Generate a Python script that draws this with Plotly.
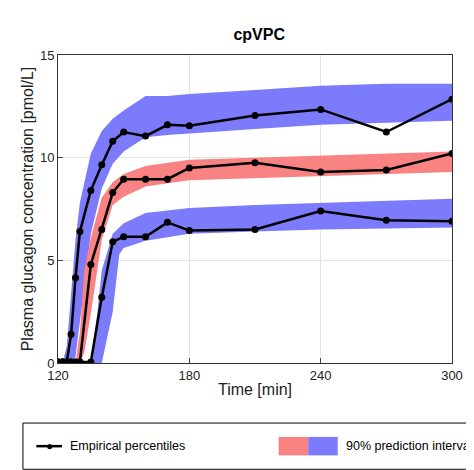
import plotly.graph_objects as go

time_hi = [120,122,124,126,128,130,135,140,145,150,160,170,180,210,240,270,300]
p95 = [0.05,0.05,0.05,1.4,4.15,6.4,8.4,9.65,10.8,11.25,11.05,11.6,11.55,12.05,12.35,11.25,12.85]
time_mid = [120,122,124,126,128,130,135,140,145,150,160,170,180,210,240,270,300]
p50 = [0.05,0.05,0.05,0.05,0.05,0.05,4.8,6.5,8.3,8.95,8.95,8.95,9.5,9.75,9.3,9.4,10.2]
time_lo = [120,122,124,126,128,130,135,140,145,150,160,170,180,210,240,270,300]
p05 = [0.05,0.05,0.05,0.05,0.05,0.05,0.05,3.2,5.9,6.15,6.15,6.85,6.45,6.5,7.4,6.95,6.9]

band_hi_t = [120,122,124,126,128,130,135,140,145,150,160,170,180,210,240,270,300]
band_hi_lo = [0,0,0,0,0.3,2.0,6.3,8.5,9.7,10.3,11.0,11.1,11.2,11.4,11.6,11.7,11.8]
band_hi_up = [0,0,0.8,3.5,6.0,7.8,10.2,11.3,11.9,12.3,13.0,13.0,13.1,13.3,13.5,13.6,13.6]
band_mid_t = [128,130,132,135,140,145,150,160,180,210,240,270,300]
band_mid_lo = [0,0,0.5,2.4,6.0,7.7,8.1,8.6,8.9,9.0,9.1,9.2,9.3]
band_mid_up = [0,1.5,4.5,6.1,8.05,8.8,9.2,9.6,9.9,10.0,10.1,10.2,10.3]
band_lo_t = [135,138,140,145,148,150,160,180,210,240,270,300]
band_lo_lo = [0,0,0,2.5,5.3,5.6,5.95,6.3,6.4,6.5,6.55,6.6]
band_lo_up = [0,2.5,4.5,6.3,6.6,6.8,7.3,7.55,7.7,7.8,7.9,8.0]

BLUE = "#7b7bfb"
RED = "#f98282"

fig = go.Figure()
def band(t, lo, up, col):
    fig.add_trace(go.Scatter(x=t + t[::-1], y=up + lo[::-1], fill="toself",
                             fillcolor=col, line=dict(width=0), mode="lines",
                             hoverinfo="skip", showlegend=False))
band(band_hi_t, band_hi_lo, band_hi_up, BLUE)
band(band_mid_t, band_mid_lo, band_mid_up, RED)
band(band_lo_t, band_lo_lo, band_lo_up, BLUE)
for t, v in [(time_hi, p95), (time_mid, p50), (time_lo, p05)]:
    fig.add_trace(go.Scatter(x=t, y=v, mode="lines+markers",
                             line=dict(color="black", width=2.5),
                             marker=dict(color="black", size=7), showlegend=False))

# manual legend (paper coords; plot area 394 x 308 px)
LY = -0.27
fig.add_shape(type="rect", xref="paper", yref="paper", x0=-0.089, x1=1.053, y0=-0.345, y1=-0.195,
              line=dict(color="black", width=1))
fig.add_shape(type="line", xref="paper", yref="paper", x0=-0.055, x1=0.01, y0=LY, y1=LY,
              line=dict(color="black", width=2.5))
fig.add_annotation(xref="paper", yref="paper", x=-0.0225, y=LY, text="●", showarrow=False,
                   xanchor="center", yanchor="middle", font=dict(size=12, color="black"))
fig.add_shape(type="rect", xref="paper", yref="paper", x0=0.56, x1=0.635, y0=LY - 0.03, y1=LY + 0.03,
              line=dict(width=0), fillcolor=RED)
fig.add_shape(type="rect", xref="paper", yref="paper", x0=0.635, x1=0.71, y0=LY - 0.03, y1=LY + 0.03,
              line=dict(width=0), fillcolor=BLUE)
fig.add_annotation(xref="paper", yref="paper", x=0.025, y=LY, text="Empirical percentiles",
                   showarrow=False, xanchor="left", yanchor="middle", font=dict(size=12.5, color="black"))
fig.add_annotation(xref="paper", yref="paper", x=0.725, y=LY, text="90% prediction intervals",
                   showarrow=False, xanchor="left", yanchor="middle", font=dict(size=12.5, color="black"))

fig.update_layout(
    width=474, height=470, margin=dict(l=50, r=30, t=47, b=115),
    plot_bgcolor="white", paper_bgcolor="white",
    font=dict(family="Liberation Sans, Arial", size=13, color="#222"),
    title=dict(text="<b>cpVPC</b>", x=0.53, xanchor="center", y=0.955, font=dict(size=16, color="black")),
    xaxis=dict(range=[120, 300], tickvals=[120, 180, 240, 300], showgrid=True, gridcolor="#e3e3e3",
               zeroline=False, showline=True, linecolor="#333", mirror=True, ticks="inside",
               automargin=False, title=dict(text="Time [min]", standoff=2)),
    yaxis=dict(range=[0, 15], tickvals=[0, 5, 10, 15], showgrid=True, gridcolor="#e3e3e3",
               zeroline=False, showline=True, linecolor="#333", mirror=True, ticks="inside",
               automargin=False, title=dict(text="Plasma glucagon concentration [pmol/L]", standoff=2)),
)
fig.write_html("out.html")
